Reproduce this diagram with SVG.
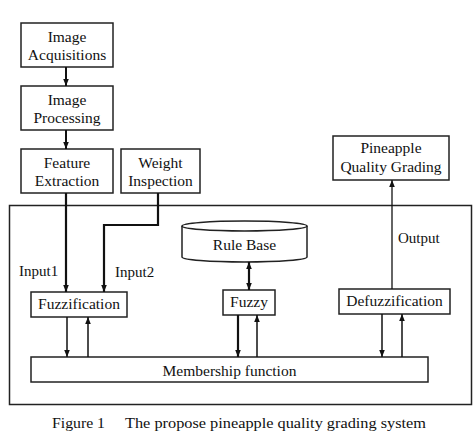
<svg xmlns="http://www.w3.org/2000/svg" width="474" height="431" viewBox="0 0 474 431">
<style>
.box{fill:#fff;stroke:#222;stroke-width:1.5}
.t{font-family:"Liberation Serif","Times New Roman",serif;font-size:15.5px;fill:#111;text-anchor:middle}
.l{font-family:"Liberation Serif","Times New Roman",serif;font-size:15px;fill:#111}
.c{fill:none;stroke:#111}
</style>
<defs>
<marker id="a" viewBox="0 0 10 10" refX="10" refY="5" markerWidth="7" markerHeight="7" markerUnits="userSpaceOnUse" orient="auto"><path d="M0,1 L10,5 L0,9 z" fill="#111"/></marker>
</defs>
<rect x="0" y="0" width="474" height="431" fill="#fff"/>
<g id="system"><rect class="box" x="9.5" y="205.5" width="462" height="199"/></g>
<g id="acq"><rect class="box" x="21" y="23" width="92" height="44"/><text class="t" x="67" y="42">Image</text><text class="t" x="67" y="60">Acquisitions</text></g>
<g id="proc"><rect class="box" x="21" y="86" width="92" height="44"/><text class="t" x="67" y="105">Image</text><text class="t" x="67" y="123">Processing</text></g>
<g id="feat"><rect class="box" x="21" y="149" width="92" height="44"/><text class="t" x="67" y="168">Feature</text><text class="t" x="67" y="186">Extraction</text></g>
<g id="weight"><rect class="box" x="121" y="149" width="79" height="44"/><text class="t" x="160.5" y="168">Weight</text><text class="t" x="160.5" y="186">Inspection</text></g>
<g id="grading"><rect class="box" x="333" y="136" width="116" height="44"/><text class="t" x="391" y="153">Pineapple</text><text class="t" x="391" y="172">Quality Grading</text></g>
<g id="rulebase"><path class="box" d="M182,226 L182,257 A62.5,5 0 0 0 307,257 L307,226"/><ellipse class="box" cx="244.5" cy="226" rx="62.5" ry="5"/><text class="t" x="244.5" y="250">Rule Base</text></g>
<g id="fuzzif"><rect class="box" x="31" y="292" width="96" height="25"/><text class="t" x="79" y="309">Fuzzification</text></g>
<g id="fuzzy"><rect class="box" x="223" y="290" width="52" height="25"/><text class="t" x="249" y="307">Fuzzy</text></g>
<g id="defuzz"><rect class="box" x="339" y="289" width="111" height="25"/><text class="t" x="394.5" y="306">Defuzzification</text></g>
<g id="member"><rect class="box" x="31" y="357" width="397" height="25"/><text class="t" x="229.5" y="376">Membership function</text></g>
<g id="connectors">
<path class="c" stroke-width="2" d="M66,67 V86" marker-end="url(#a)"/>
<path class="c" stroke-width="2" d="M66,130 V149" marker-end="url(#a)"/>
<path class="c" stroke-width="2.2" d="M66,193 V292" marker-end="url(#a)"/>
<path class="c" stroke-width="2.2" d="M158,193 V225 H104 V292" marker-end="url(#a)"/>
<path class="c" stroke-width="1.5" d="M67,317 V357" marker-end="url(#a)"/>
<path class="c" stroke-width="1.5" d="M88,357 V317" marker-end="url(#a)"/>
<path class="c" stroke-width="2.2" d="M249,275 V290" marker-end="url(#a)"/>
<path class="c" stroke-width="2.2" d="M249,275 V262" marker-end="url(#a)"/>
<path class="c" stroke-width="2.2" d="M238,315 V357" marker-end="url(#a)"/>
<path class="c" stroke-width="1.5" d="M257,357 V315" marker-end="url(#a)"/>
<path class="c" stroke-width="1.5" d="M382,314 V357" marker-end="url(#a)"/>
<path class="c" stroke-width="1.5" d="M402,357 V314" marker-end="url(#a)"/>
<path class="c" stroke-width="1.3" d="M392,289 V180" marker-end="url(#a)"/>
</g>
<text class="l" x="19" y="276">Input1</text>
<text class="l" x="115" y="277">Input2</text>
<text class="l" x="398" y="243">Output</text>
<text class="l" x="52" y="428" font-size="16" textLength="53" lengthAdjust="spacingAndGlyphs">Figure 1</text>
<text class="l" x="125" y="428" font-size="16" textLength="301" lengthAdjust="spacingAndGlyphs">The propose pineapple quality grading system</text>
</svg>
